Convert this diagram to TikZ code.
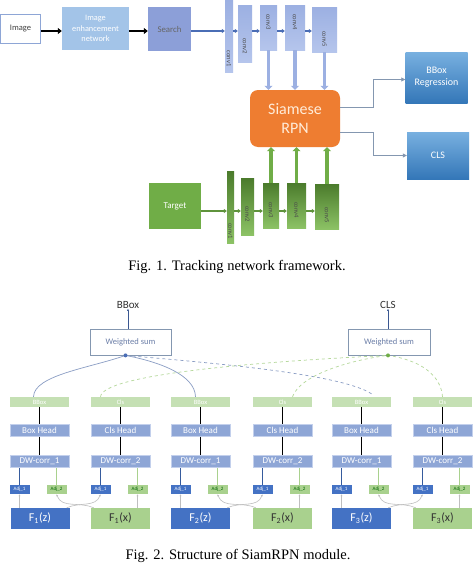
\documentclass[tikz,border=0pt]{standalone}
\usepackage{fontspec}
\setmainfont{Liberation Serif}
\newfontfamily\diagfont{Carlito}
\usetikzlibrary{arrows.meta}
\definecolor{enhblue}{HTML}{A3C4E8}
\definecolor{srchblue}{HTML}{8C9FD8}
\definecolor{convblue}{HTML}{9CB0E2}
\definecolor{convbluel}{HTML}{B5C5EC}
\definecolor{rpnorange}{HTML}{EE7D31}
\definecolor{bbrtop}{HTML}{78B0E0}
\definecolor{bbrbot}{HTML}{3477B8}
\definecolor{tgreen}{HTML}{70AD47}
\definecolor{gdark}{HTML}{4B7B2C}
\definecolor{glight}{HTML}{8CC265}
\definecolor{headblue}{HTML}{8EA6D6}
\definecolor{headedge}{HTML}{C3D0EC}
\definecolor{lgreen}{HTML}{C5E0B4}
\definecolor{adjblue}{HTML}{4472C4}
\definecolor{fgreen}{HTML}{A9D18E}
\definecolor{lineblue}{HTML}{4A6DB5}
\definecolor{thinblue}{HTML}{8497B0}
\definecolor{curveblue}{HTML}{8A9DC4}
\definecolor{curvegreen}{HTML}{B5D89A}
\definecolor{wstext}{HTML}{6C7FA8}
\tikzset{
  box/.style={inner sep=0pt, align=center},
  imgbox/.style={box, draw=headblue, line width=1pt, fill=white, text=black!75, font=\diagfont\fontsize{8.5}{10}\selectfont},
  enhbox/.style={box, fill=enhblue, text=white, font=\diagfont\fontsize{8.3}{10.5}\selectfont},
  srchbox/.style={box, fill=srchblue, text=black!60, font=\diagfont\fontsize{8.8}{10}\selectfont},
  bconv/.style={box, top color=convblue, bottom color=convbluel},
  gconv/.style={box, top color=gdark, bottom color=glight},
  convtxt/.style={inner sep=0pt, rotate=-90, text=black!70, font=\diagfont\fontsize{6.5}{7}\selectfont},
  rpnbox/.style={box, fill=rpnorange, rounded corners=8pt, text=orange!15, font=\diagfont\fontsize{16}{19}\selectfont},
  outbox/.style={box, top color=bbrtop, bottom color=bbrbot, text=white, font=\diagfont\fontsize{10}{12}\selectfont},
  tgtbox/.style={box, fill=tgreen, text=white, font=\diagfont\fontsize{9}{10}\selectfont},
  bigarrow/.style={line width=2pt, -{Triangle[length=4pt,width=6pt]}},
  bluearrow/.style={draw=lineblue, line width=1.3pt, -{Triangle[length=3pt,width=4pt]}},
  bluevert/.style={draw=convblue, line width=3.5pt, -{Triangle[length=4pt,width=8pt]}},
  greenarrow/.style={draw=tgreen!85!black, line width=1.5pt, -{Triangle[length=3pt,width=4pt]}},
  greenvert/.style={draw=tgreen, line width=3.5pt, -{Triangle[length=4pt,width=8pt]}},
  thinarrow/.style={draw=thinblue, line width=0.8pt, -{Triangle[length=4pt,width=4pt]}},
  caption/.style={inner sep=0pt, font=\fontsize{14.5}{16}\selectfont},
  wsbox/.style={box, draw=thinblue, line width=0.8pt, fill=white, text=wstext, minimum width=81pt, minimum height=26pt, font=\diagfont\fontsize{8.5}{10}\selectfont},
  toplabel/.style={inner sep=0pt, text=black!80, font=\diagfont\fontsize{11}{12}\selectfont},
  labbox/.style={box, fill=lgreen, text=white, minimum width=59pt, minimum height=10pt, font=\diagfont\fontsize{6.5}{7}\selectfont},
  headbox/.style={box, fill=headblue, draw=headedge, line width=1pt, text=white, minimum width=59pt, minimum height=12pt, font=\diagfont\fontsize{9}{10}\selectfont},
  adjone/.style={box, fill=adjblue, text=white, minimum width=20pt, minimum height=9pt, font=\diagfont\fontsize{5}{6}\selectfont},
  adjtwo/.style={box, fill=fgreen, text=black!60!green, minimum width=20pt, minimum height=9pt, font=\diagfont\fontsize{5}{6}\selectfont},
  fzbox/.style={box, fill=adjblue, text=white, minimum width=59pt, minimum height=21pt, font=\diagfont\fontsize{12}{13}\selectfont},
  fxbox/.style={box, fill=fgreen, text=black!80, minimum width=59pt, minimum height=21pt, font=\diagfont\fontsize{12}{13}\selectfont},
  blackline/.style={draw=black, line width=1.6pt},
  adjoneline/.style={draw=adjblue!80!black, line width=1.3pt},
  adjtwoline/.style={draw=fgreen, line width=1.1pt},
  fline/.style={draw=black!25, line width=0.6pt, -{Latex[length=2pt,width=2pt]}},
  bcurve/.style={draw=curveblue, line width=0.7pt},
  gcurve/.style={draw=curvegreen, line width=0.7pt, dashed},
  uparrow/.style={draw=lineblue!80!black, line width=0.8pt, -{Latex[length=2pt,width=2pt]}}
}
\begin{document}
\begin{tikzpicture}[x=1pt,y=-1pt]
\useasboundingbox[fill=white] (0,0) rectangle (474,565);
\coordinate (ly) at (0,31);
\coordinate (gy) at (0,211);
% ---------- Fig. 1 ----------
\node[imgbox, minimum width=40pt, minimum height=29pt] (img) at (20.5,28.5) {Image};
\node[enhbox, minimum width=67pt, minimum height=43pt] (enh) at (95.5,28.5) {Image\\enhancement\\network};
\node[srchbox, minimum width=43pt, minimum height=44pt] (search) at (169.5,29) {Search};
\node[bconv, minimum width=8pt, minimum height=72pt] (c1b) at (229,36) {};
\node[bconv, minimum width=14pt, minimum height=57pt] (c2b) at (245,33.5) {};
\node[bconv, minimum width=17pt, minimum height=45pt] (c3b) at (268.5,27.5) {};
\node[bconv, minimum width=20pt, minimum height=45pt] (c4b) at (295,27.5) {};
\node[bconv, minimum width=25pt, minimum height=45pt] (c5b) at (324.5,29.5) {};
\node[convtxt] (tb1) at (229,58.5) {conv1};
\node[convtxt] (tb2) at (245,46) {conv2};
\node[convtxt] (tb3) at (268.5,22) {conv3};
\node[convtxt] (tb4) at (295,22) {conv4};
\node[convtxt] (tb5) at (324.5,39) {conv5};
\draw[bigarrow] (img.east |- ly) -- (enh.west |- ly);
\draw[bigarrow] (enh.east |- ly) -- (search.west |- ly);
\draw[bluearrow] (search.east |- ly) -- (c1b.west |- ly);
\draw[bluearrow] (c1b.east |- ly) -- (c2b.west |- ly);
\draw[bluearrow] (c2b.east |- ly) -- (c3b.west |- ly);
\draw[bluearrow] (c3b.east |- ly) -- (c4b.west |- ly);
\draw[bluearrow] (c4b.east |- ly) -- (c5b.west |- ly);
\node[rpnbox, minimum width=90pt, minimum height=57pt] (rpn) at (295,118.5) {Siamese\\RPN};
\draw[bluevert] (c3b.south) -- (c3b.south |- rpn.north);
\draw[bluevert] (c4b.south) -- (c4b.south |- rpn.north);
\draw[bluevert] (c5b.south) -- (c5b.south |- rpn.north);
\node[outbox, minimum width=62pt, minimum height=51pt] (bbr) at (436.5,77.5) {BBox\\Regression};
\node[outbox, minimum width=62pt, minimum height=47pt] (cls) at (438,155.5) {CLS};
\draw[thinarrow] ([yshift=11.5pt]rpn.east) -- ++(33,0) |- ([yshift=-2pt]bbr.west);
\draw[thinarrow] ([yshift=-13.5pt]rpn.east) -- ++(33,0) |- (cls.west);
\node[tgtbox, minimum width=52pt, minimum height=46pt] (target) at (175,206) {Target};
\node[gconv, minimum width=7pt, minimum height=72pt] (g1) at (230.5,207) {};
\node[gconv, minimum width=13pt, minimum height=57pt] (g2) at (247.5,206.5) {};
\node[gconv, minimum width=16pt, minimum height=45pt] (g3) at (271,205.5) {};
\node[gconv, minimum width=19pt, minimum height=45pt] (g4) at (296.5,205.5) {};
\node[gconv, minimum width=24pt, minimum height=45pt] (g5) at (327,206.5) {};
\node[convtxt] (tg1) at (230.5,231) {conv1};
\node[convtxt] (tg2) at (247.5,214) {conv2};
\node[convtxt] (tg3) at (271,210) {conv3};
\node[convtxt] (tg4) at (296.5,210) {conv4};
\node[convtxt] (tg5) at (327,215) {conv5};
\draw[greenarrow] (target.east |- gy) -- (g1.west |- gy);
\draw[greenarrow] (g1.east |- gy) -- (g2.west |- gy);
\draw[greenarrow] (g2.east |- gy) -- (g3.west |- gy);
\draw[greenarrow] (g3.east |- gy) -- (g4.west |- gy);
\draw[greenarrow] (g4.east |- gy) -- (g5.west |- gy);
\draw[greenvert] (g3.north) -- (g3.north |- rpn.south);
\draw[greenvert] (g4.north) -- (g4.north |- rpn.south);
\draw[greenvert] (g5.north) -- (g5.north |- rpn.south);
\node[caption] (cap1) at (237,267) {Fig. 1. Tracking network framework.};
% ---------- Fig. 2 ----------
\node[toplabel] (bboxlbl) at (128,305) {BBox};
\node[toplabel] (clslbl) at (388,305) {CLS};
\node[wsbox] (wsL) at (130.5,342) {Weighted sum};
\node[wsbox, minimum width=82pt] (wsR) at (389,342) {Weighted sum};
\draw[uparrow] (bboxlbl.south |- wsL.north) -- (bboxlbl.south);
\draw[uparrow] (clslbl.south |- wsR.north) -- (clslbl.south);
\foreach \i/\cx/\lab/\head/\dw in {1/39.5/BBox/Box Head/DW-corr\_1, 2/120.5/Cls/Cls Head/DW-corr\_2, 3/200.5/BBox/Box Head/DW-corr\_1, 4/282.5/Cls/Cls Head/DW-corr\_2, 5/361.5/BBox/Box Head/DW-corr\_1, 6/442.5/Cls/Cls Head/DW-corr\_2}{
  \node[labbox] (lab\i) at (\cx,402) {\lab};
  \node[headbox] (head\i) at (\cx,430) {\head};
  \node[headbox] (dw\i) at (\cx,461) {\dw};
  \node[adjone] (aone\i) at (\cx-20,489.5) {Adj\_1};
  \node[adjtwo] (atwo\i) at (\cx+17,489.5) {Adj\_2};
  \draw[blackline] (lab\i) -- (head\i);
  \draw[blackline] (head\i) -- (dw\i);
  \draw[adjoneline] (aone\i.north) -- (aone\i.north |- dw\i.south);
  \draw[adjtwoline] (atwo\i.north) -- (atwo\i.north |- dw\i.south);
}
\node[fzbox] (fz1) at (40,518.5) {F\textsubscript{1}(z)};
\node[fxbox] (fx1) at (120.5,518.5) {F\textsubscript{1}(x)};
\node[fzbox] (fz2) at (200.5,518.5) {F\textsubscript{2}(z)};
\node[fxbox] (fx2) at (282.5,518.5) {F\textsubscript{2}(x)};
\node[fzbox] (fz3) at (361.5,518.5) {F\textsubscript{3}(z)};
\node[fxbox] (fx3) at (442.5,518.5) {F\textsubscript{3}(x)};
\foreach \k/\a/\b in {1/1/2, 2/3/4, 3/5/6}{
  \draw[fline] (fz\k.north -| aone\a) -- (aone\a.south);
  \draw[fline] (fx\k.north -| atwo\b) -- (atwo\b.south);
  \draw[fline] ([xshift=-3pt]fz\k.north east) to[out=25,in=-110] (aone\b.south);
  \draw[fline] ([xshift=3pt]fx\k.north west) to[out=155,in=-70] (atwo\a.south);
}
% curves to weighted sums
\coordinate (wsLin) at ([xshift=-5pt]wsL.south);
\coordinate (wsRin) at ([xshift=-1pt]wsR.south);
\draw[bcurve] ([xshift=-6pt]lab1.north) .. controls (34,375) and (90,368) .. (wsLin);
\draw[bcurve] ([xshift=-5pt]lab3.north) .. controls (195,375) and (160,362) .. (wsLin);
\draw[bcurve, dashed] ([xshift=10pt,yshift=3pt]lab5.north) .. controls (340,373) and (200,362) .. (wsLin);
\draw[gcurve] ([xshift=-20pt]lab2.north) .. controls (102,375) and (250,362) .. (wsRin);
\draw[gcurve] ([xshift=10pt]lab4.north) .. controls (300,375) and (350,360) .. (wsRin);
\draw[gcurve] (lab6.north) .. controls (441,375) and (420,360) .. (wsRin);
\fill[lineblue] (wsLin) circle (2pt);
\fill[tgreen] (wsRin) circle (2pt);
\node[caption] (cap2) at (238,556) {Fig. 2. Structure of SiamRPN module.};
\end{tikzpicture}
\end{document}
